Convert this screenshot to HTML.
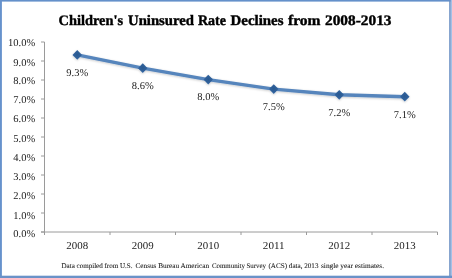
<!DOCTYPE html>
<html><head><meta charset="utf-8"><style>
html,body{margin:0;padding:0;background:#fff;}
body{width:452px;height:278px;overflow:hidden;position:relative;}
svg{position:absolute;left:0;top:0;will-change:transform;}
text{font-family:"Liberation Serif",serif;fill:#222;text-rendering:geometricPrecision;}
.ax{font-size:10.5px;}
.title{font-size:14.5px;font-weight:bold;fill:#000;stroke:#000;stroke-width:0.4px;}
.note{font-size:7.1px;fill:#1a1a1a;stroke:#1a1a1a;stroke-width:0.08px;}
</style></head><body>
<svg width="452" height="278" viewBox="0 0 452 278">
<defs><radialGradient id="mk" cx="50%" cy="45%" r="60%"><stop offset="0" stop-color="#2a5890"/><stop offset="0.6" stop-color="#30619b"/><stop offset="1" stop-color="#4574ad"/></radialGradient><filter id="sh" x="-10%" y="-50%" width="120%" height="200%"><feDropShadow dx="0" dy="0.8" stdDeviation="0.8" flood-color="#000" flood-opacity="0.22"/></filter></defs>
<rect x="0" y="0" width="452" height="278" fill="#ffffff"/>
<rect x="0" y="0" width="452" height="1.6" fill="#6490ca"/>
<rect x="0" y="0" width="1.9" height="278" fill="#6692cc"/>
<rect x="449.2" y="0" width="1.6" height="278" fill="#6a8fc4"/>
<rect x="450.8" y="0" width="1.2" height="278" fill="#a6c0e6"/>
<rect x="0" y="275.7" width="452" height="2.3" fill="#6a92c8"/>
<text x="58.5" y="25.4" textLength="64.5" lengthAdjust="spacingAndGlyphs" class="title">Children's</text>
<text x="128.0" y="25.4" textLength="66.0" lengthAdjust="spacingAndGlyphs" class="title">Uninsured</text>
<text x="198.0" y="25.4" textLength="28.0" lengthAdjust="spacingAndGlyphs" class="title">Rate</text>
<text x="230.5" y="25.4" textLength="53.0" lengthAdjust="spacingAndGlyphs" class="title">Declines</text>
<text x="288.0" y="25.4" textLength="32.5" lengthAdjust="spacingAndGlyphs" class="title">from</text>
<text x="325.0" y="25.4" textLength="66.5" lengthAdjust="spacingAndGlyphs" class="title">2008-2013</text>
<line x1="44.5" y1="42.0" x2="44.5" y2="235" stroke="#9a9a9a" stroke-width="1"/>
<line x1="41.0" y1="232" x2="437.5" y2="232" stroke="#9a9a9a" stroke-width="1"/>
<line x1="41.0" y1="232.0" x2="44.5" y2="232.0" stroke="#9a9a9a" stroke-width="1"/>
<text x="35.2" y="237.00" text-anchor="end" class="ax">0.0%</text>
<line x1="41.0" y1="213.0" x2="44.5" y2="213.0" stroke="#9a9a9a" stroke-width="1"/>
<text x="35.2" y="218.50" text-anchor="end" class="ax">1.0%</text>
<line x1="41.0" y1="194.0" x2="44.5" y2="194.0" stroke="#9a9a9a" stroke-width="1"/>
<text x="35.2" y="199.30" text-anchor="end" class="ax">2.0%</text>
<line x1="41.0" y1="175.0" x2="44.5" y2="175.0" stroke="#9a9a9a" stroke-width="1"/>
<text x="35.2" y="180.30" text-anchor="end" class="ax">3.0%</text>
<line x1="41.0" y1="156.0" x2="44.5" y2="156.0" stroke="#9a9a9a" stroke-width="1"/>
<text x="35.2" y="160.60" text-anchor="end" class="ax">4.0%</text>
<line x1="41.0" y1="137.0" x2="44.5" y2="137.0" stroke="#9a9a9a" stroke-width="1"/>
<text x="35.2" y="141.50" text-anchor="end" class="ax">5.0%</text>
<line x1="41.0" y1="118.0" x2="44.5" y2="118.0" stroke="#9a9a9a" stroke-width="1"/>
<text x="35.2" y="122.30" text-anchor="end" class="ax">6.0%</text>
<line x1="41.0" y1="99.0" x2="44.5" y2="99.0" stroke="#9a9a9a" stroke-width="1"/>
<text x="35.2" y="103.30" text-anchor="end" class="ax">7.0%</text>
<line x1="41.0" y1="80.0" x2="44.5" y2="80.0" stroke="#9a9a9a" stroke-width="1"/>
<text x="35.2" y="84.40" text-anchor="end" class="ax">8.0%</text>
<line x1="41.0" y1="61.0" x2="44.5" y2="61.0" stroke="#9a9a9a" stroke-width="1"/>
<text x="35.2" y="65.50" text-anchor="end" class="ax">9.0%</text>
<line x1="41.0" y1="42.0" x2="44.5" y2="42.0" stroke="#9a9a9a" stroke-width="1"/>
<text x="35.2" y="46.40" text-anchor="end" class="ax">10.0%</text>
<line x1="110.0" y1="232" x2="110.0" y2="235" stroke="#9a9a9a" stroke-width="1"/>
<line x1="175.5" y1="232" x2="175.5" y2="235" stroke="#9a9a9a" stroke-width="1"/>
<line x1="241.0" y1="232" x2="241.0" y2="235" stroke="#9a9a9a" stroke-width="1"/>
<line x1="306.5" y1="232" x2="306.5" y2="235" stroke="#9a9a9a" stroke-width="1"/>
<line x1="372.0" y1="232" x2="372.0" y2="235" stroke="#9a9a9a" stroke-width="1"/>
<line x1="437.5" y1="232" x2="437.5" y2="235" stroke="#9a9a9a" stroke-width="1"/>
<text x="77.25" y="248.9" text-anchor="middle" textLength="21.8" lengthAdjust="spacingAndGlyphs" class="ax">2008</text>
<text x="142.75" y="248.9" text-anchor="middle" textLength="21.8" lengthAdjust="spacingAndGlyphs" class="ax">2009</text>
<text x="208.25" y="248.9" text-anchor="middle" textLength="21.8" lengthAdjust="spacingAndGlyphs" class="ax">2010</text>
<text x="273.75" y="248.9" text-anchor="middle" textLength="21.8" lengthAdjust="spacingAndGlyphs" class="ax">2011</text>
<text x="339.25" y="248.9" text-anchor="middle" textLength="21.8" lengthAdjust="spacingAndGlyphs" class="ax">2012</text>
<text x="404.75" y="248.9" text-anchor="middle" textLength="21.8" lengthAdjust="spacingAndGlyphs" class="ax">2013</text>
<g filter="url(#sh)">
<polyline points="77.25,54.899999999999984 142.75,68.19999999999999 208.25,79.6 273.75,89.1 339.25,94.79999999999998 404.75,96.69999999999999" fill="none" stroke="#5685bc" stroke-width="3.4" stroke-linejoin="round"/>
<path d="M77.25 49.999999999999986L82.05 54.899999999999984L77.25 59.79999999999998L72.45 54.899999999999984Z" fill="url(#mk)"/>
<path d="M142.75 63.29999999999999L147.55 68.19999999999999L142.75 73.1L137.95 68.19999999999999Z" fill="url(#mk)"/>
<path d="M208.25 74.69999999999999L213.05 79.6L208.25 84.5L203.45 79.6Z" fill="url(#mk)"/>
<path d="M273.75 84.19999999999999L278.55 89.1L273.75 94.0L268.95 89.1Z" fill="url(#mk)"/>
<path d="M339.25 89.89999999999998L344.05 94.79999999999998L339.25 99.69999999999999L334.45 94.79999999999998Z" fill="url(#mk)"/>
<path d="M404.75 91.79999999999998L409.55 96.69999999999999L404.75 101.6L399.95 96.69999999999999Z" fill="url(#mk)"/>
</g>
<text x="77.25" y="75.80" text-anchor="middle" class="ax">9.3%</text>
<text x="142.75" y="89.10" text-anchor="middle" class="ax">8.6%</text>
<text x="208.25" y="99.90" text-anchor="middle" class="ax">8.0%</text>
<text x="273.75" y="110.00" text-anchor="middle" class="ax">7.5%</text>
<text x="339.25" y="115.70" text-anchor="middle" class="ax">7.2%</text>
<text x="404.75" y="117.60" text-anchor="middle" class="ax">7.1%</text>
<text x="61.5" y="268.0" textLength="71.0" lengthAdjust="spacingAndGlyphs" class="note">Data compiled from U.S.</text>
<text x="135.5" y="268.0" textLength="73.5" lengthAdjust="spacingAndGlyphs" class="note">Census Bureau American</text>
<text x="212.0" y="268.0" textLength="54.0" lengthAdjust="spacingAndGlyphs" class="note">Community Survey</text>
<text x="268.5" y="268.0" textLength="50.0" lengthAdjust="spacingAndGlyphs" class="note">(ACS) data, 2013</text>
<text x="321.0" y="268.0" textLength="63.0" lengthAdjust="spacingAndGlyphs" class="note">single year estimates.</text>
</svg>
</body></html>
